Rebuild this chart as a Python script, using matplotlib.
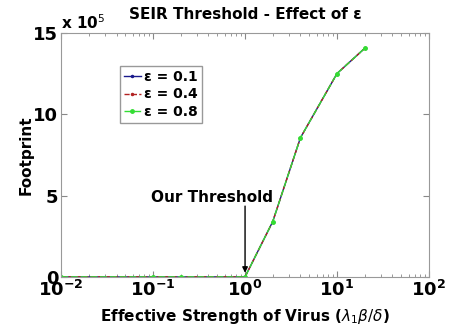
import matplotlib
matplotlib.use("Agg")
import matplotlib.pyplot as plt
from matplotlib.ticker import FuncFormatter

strength = [0.01, 0.1, 0.2, 1, 2, 4, 10, 20]
foot_01 = [0, 0, 0, 0, 3.4e5, 8.55e5, 12.5e5, 14.05e5]
foot_04 = [0, 0, 0, 0, 3.4e5, 8.55e5, 12.5e5, 14.05e5]
foot_08 = [0, 0, 0, 0, 3.4e5, 8.55e5, 12.5e5, 14.05e5]
labels = ["ε = 0.1", "ε = 0.4", "ε = 0.8"]
yticks = [0, 5e5, 10e5, 15e5]
xticks = [1e-2, 1e-1, 1e0, 1e1, 1e2]
xticklabels = [r"$\mathbf{10^{-2}}$", r"$\mathbf{10^{-1}}$", r"$\mathbf{10^{0}}$",
               r"$\mathbf{10^{1}}$", r"$\mathbf{10^{2}}$"]

fig = plt.figure(figsize=(4.74, 3.32), dpi=100)
ax = fig.add_axes([0.129, 0.166, 0.776, 0.735])

ax.plot(strength, foot_01, color="#1a1a8c", lw=1, marker=".", ms=3, label=labels[0])
ax.plot(strength, foot_04, color="#b22222", lw=1, ls="--", marker=".", ms=3, label=labels[1])
ax.plot(strength, foot_08, color="#33dd33", lw=1, ls=(0, (5, 2)), marker=".", ms=5, label=labels[2])

ax.set_xscale("log")
ax.set_xlim(1e-2, 1e2)
ax.set_ylim(0, 15e5)
ax.set_xticks(xticks)
ax.set_xticklabels(xticklabels)
ax.set_yticks(yticks)
ax.yaxis.set_major_formatter(FuncFormatter(lambda v, p: "%d" % round(v / 1e5)))
for lab in ax.get_yticklabels():
    lab.set_fontweight("bold")
ax.tick_params(axis="both", which="both", direction="in", top=True, right=True,
               labelsize=13, colors="black", pad=2)
ax.tick_params(axis="both", which="major", length=4, color="#888888")
ax.tick_params(axis="x", which="minor", length=2, color="#888888")
for s in ax.spines.values():
    s.set_color("#999999")
    s.set_linewidth(0.8)

ax.text(0.0, 1.005, r"x 10$^{5}$", transform=ax.transAxes, fontsize=11,
        fontweight="bold", ha="left", va="bottom")

ax.set_title("SEIR Threshold - Effect of ε", fontsize=11, fontweight="bold", pad=10)
ax.set_xlabel(r"Effective Strength of Virus ($\lambda_{1}\beta/\delta$)",
              fontsize=11, fontweight="bold", labelpad=5)
ax.set_ylabel("Footprint", fontsize=11, fontweight="bold", labelpad=0)

ax.text(0.44, 4.9e5, "Our Threshold", ha="center", va="center",
        fontsize=11, fontweight="bold")
ax.annotate("", xy=(1, 0.25e5), xytext=(1, 4.35e5),
            arrowprops=dict(arrowstyle="-|>", color="black", lw=1,
                            mutation_scale=8, shrinkA=0, shrinkB=0))

leg = ax.legend(loc="upper left", bbox_to_anchor=(0.16, 0.865),
                prop={"weight": "bold", "size": 10},
                handlelength=1.2, handletextpad=0.2, borderpad=0.3, labelspacing=0.25,
                borderaxespad=0, fancybox=False, framealpha=1, edgecolor="#999999")

fig.savefig("out.png", dpi=100)
